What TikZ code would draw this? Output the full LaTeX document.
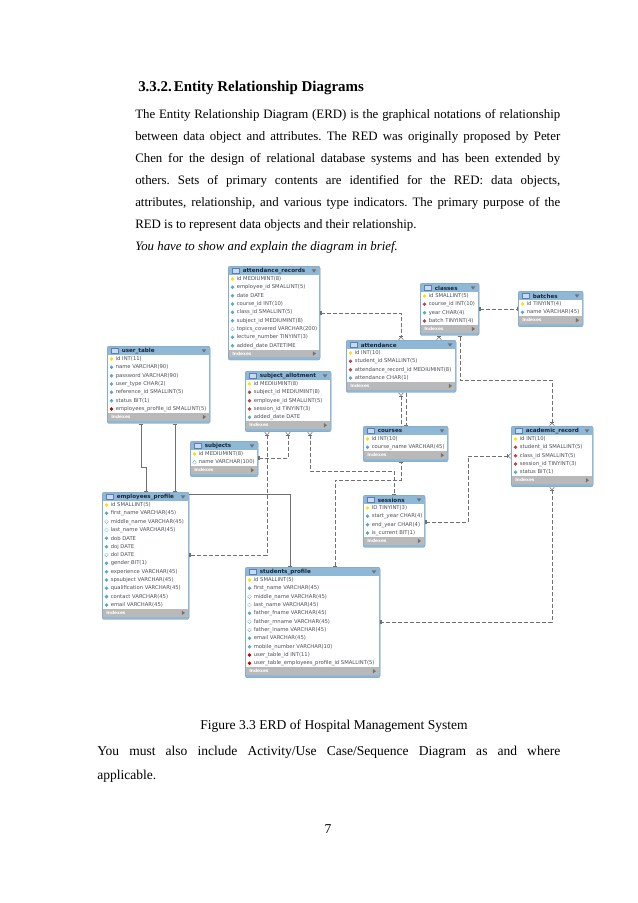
\documentclass[tikz,border=0pt]{standalone}
\usepackage{fontspec}
\setmainfont{Liberation Serif}
\setsansfont{DejaVu Sans}
\usetikzlibrary{arrows.meta,shapes.geometric}
\frenchspacing

\definecolor{tblblue}{HTML}{8FB7D6}
\definecolor{bandgray}{HTML}{B9B9B9}
\definecolor{rowink}{HTML}{4A4F55}
\definecolor{titleink}{HTML}{16283C}
\definecolor{linkgray}{HTML}{707070}
\definecolor{iconline}{HTML}{5B7FB5}
\definecolor{iconfill}{HTML}{C9D9F0}

\tikzset{
  tblbox/.style={rounded corners=1.5pt, fill=tblblue, draw=tblblue!85!black, line width=.2pt, anchor=north west, inner sep=0pt},
  tbltitle/.style={anchor=west, inner sep=0pt, text=titleink, font=\sffamily\bfseries\fontsize{4.2}{5}\selectfont},
  tblrow/.style={anchor=west, inner sep=0pt, text=rowink, font=\sffamily\fontsize{3.95}{4.5}\selectfont},
  tblband/.style={anchor=west, inner sep=0pt, text=white, font=\sffamily\bfseries\fontsize{3.3}{4}\selectfont},
  tblicon/.style={rectangle, draw=iconline, fill=iconfill, line width=.3pt, inner sep=0pt, minimum width=5.5pt, minimum height=3.5pt},
  fold/.style={isosceles triangle, isosceles triangle apex angle=70, fill=black!55, inner sep=0pt, minimum size=2.4pt},
  pk/.style={diamond, fill=yellow!85!orange, inner sep=0pt, minimum size=3pt},
  rk/.style={diamond, fill=red!75!black, inner sep=0pt, minimum size=3pt},
  fk/.style={diamond, fill=red!45!gray, inner sep=0pt, minimum size=3pt},
  ck/.style={diamond, fill=cyan!55!gray, inner sep=0pt, minimum size=3pt},
  ok/.style={diamond, fill=white, draw=cyan!50!gray, line width=.2pt, inner sep=0pt, minimum size=3pt},
  onetip/.tip={Bar[width=3.5pt,length=.4pt,line width=.4pt].Bar[width=3.5pt,length=.4pt,line width=.4pt]},
  manytip/.tip={Bar[width=3.5pt,length=.4pt,line width=.4pt]Straight Barb[reversed,length=2pt,width=3.5pt,line width=.4pt]},
  solidlink/.style={draw=linkgray, line width=.6pt},
  dashlink/.style={draw=linkgray, line width=.6pt, dash pattern=on 3pt off 1.5pt},
  bodytext/.style={anchor=north west, inner sep=0pt, align=justify, font=\fontsize{9.65}{16.5}\selectfont},
  closetext/.style={anchor=north west, inner sep=0pt, align=justify, font=\fontsize{10.15}{18}\selectfont},
  plainline/.style={inner sep=0pt, font=\fontsize{10.15}{16.5}\selectfont}
}

% name, x, y, width, rows, title, rows list
\newcommand{\erdtable}[7]{
  \node[tblbox, minimum width={#4*0.75pt}, minimum height={(19+8.33*#5)*0.75pt}] (#1) at (#2,#3) {};
  \fill[white] (#2+.7,#3+8.8) rectangle (#2+#4-.7,#3+8.8+8.33*#5);
  \fill[bandgray] (#2+.7,#3+8.8+8.33*#5) rectangle (#2+#4-.7,#3+16.4+8.33*#5);
  \node[tblicon] (#1-icon) at (#2+8,#3+5) {};
  \node[tbltitle] (#1-title) at (#2+14.5,#3+5) {#6};
  \node[fold, rotate=-90] (#1-fold) at (#2+#4-6,#3+4.6) {};
  \foreach \kind/\row [count=\i] in {#7} {
    \node[\kind] (#1-key-\i) at (#2+4.5,{#3+13+8.33*(\i-1)}) {};
    \node[tblrow] (#1-row-\i) at (#2+8.5,{#3+13+8.33*(\i-1)}) {\row};
  }
  \node[tblband] (#1-band) at (#2+4,#3+12.6+8.33*#5) {Indexes};
  \node[fold] (#1-more) at (#2+#4-6,#3+12.6+8.33*#5) {};
}

\begin{document}
\begin{tikzpicture}[x=0.75pt,y=-0.75pt]
  \useasboundingbox[fill=white] (0,0) rectangle (638,903);

  % page text
  \node[inner sep=0pt, anchor=west, font=\bfseries\fontsize{11.2}{13}\selectfont] (heading) at (138,88) {3.3.2.\hspace{1.5pt}Entity Relationship Diagrams};
  \node[bodytext, text width=425*0.75pt] (para) at (135,109.5) {The Entity Relationship Diagram (ERD) is the graphical notations of relationship\linebreak
    between data object and attributes. The RED was originally proposed by Peter\linebreak
    Chen for the design of relational database systems and has been extended by\linebreak
    others. Sets of primary contents are identified for the RED: data objects,\linebreak
    attributes, relationship, and various type indicators. The primary purpose of the\linebreak
    RED is to represent data objects and their relationship.\\
    \textit{You have to show and explain the diagram in brief.}};

  % tables
  \erdtable{attrecords}{228}{266}{92}{9}{attendance\_records}{pk/id MEDIUMINT(8), ck/employee\_id SMALLINT(5), ck/date DATE, ck/course\_id INT(10), ck/class\_id SMALLINT(5), ck/subject\_id MEDIUMINT(8), ok/topics\_covered VARCHAR(200), ck/lecture\_number TINYINT(3), ck/added\_date DATETIME}
  \erdtable{usertable}{107}{346}{103}{7}{user\_table}{pk/id INT(11), ck/name VARCHAR(90), ck/password VARCHAR(90), ck/user\_type CHAR(2), ck/reference\_id SMALLINT(5), ck/status BIT(1), rk/employees\_profile\_id SMALLINT(5)}
  \erdtable{subjallot}{245}{371}{86}{5}{subject\_allotment}{pk/id MEDIUMINT(8), fk/subject\_id MEDIUMINT(8), fk/employee\_id SMALLINT(5), fk/session\_id TINYINT(3), ck/added\_date DATE}
  \erdtable{subjects}{190}{441}{68}{2}{subjects}{pk/id MEDIUMINT(8), ok/name VARCHAR(100)}
  \erdtable{employees}{102}{492}{87}{13}{employees\_profile}{pk/id SMALLINT(5), ck/first\_name VARCHAR(45), ok/middle\_name VARCHAR(45), ok/last\_name VARCHAR(45), ck/dob DATE, ck/doj DATE, ok/dol DATE, ck/gender BIT(1), ck/experience VARCHAR(45), ck/spsubject VARCHAR(45), ck/qualification VARCHAR(45), ck/contact VARCHAR(45), ck/email VARCHAR(45)}
  \erdtable{students}{245}{567}{135}{11}{students\_profile}{pk/id SMALLINT(5), ck/first\_name VARCHAR(45), ok/middle\_name VARCHAR(45), ok/last\_name VARCHAR(45), ck/father\_fname VARCHAR(45), ok/father\_mname VARCHAR(45), ok/father\_lname VARCHAR(45), ck/email VARCHAR(45), ck/mobile\_number VARCHAR(10), rk/user\_table\_id INT(11), rk/user\_table\_employees\_profile\_id SMALLINT(5)}
  \erdtable{classes}{420}{283}{59}{4}{classes}{pk/id SMALLINT(5), fk/course\_id INT(10), ck/year CHAR(4), fk/batch TINYINT(4)}
  \erdtable{batches}{518}{291}{65}{2}{batches}{pk/id TINYINT(4), ck/name VARCHAR(45)}
  \erdtable{attendance}{346}{340}{110}{4}{attendance}{pk/id INT(10), fk/student\_id SMALLINT(5), fk/attendance\_record\_id MEDIUMINT(8), ck/attendance CHAR(1)}
  \erdtable{courses}{363}{426}{85}{2}{courses}{pk/id INT(10), ck/course\_name VARCHAR(45)}
  \erdtable{sessions}{363}{495}{62}{4}{sessions}{pk/ID TINYINT(3), ck/start\_year CHAR(4), ck/end\_year CHAR(4), ck/is\_current BIT(1)}
  \erdtable{academic}{511}{426}{82}{5}{academic\_record}{pk/id INT(10), fk/student\_id SMALLINT(5), fk/class\_id SMALLINT(5), fk/session\_id TINYINT(3), ck/status BIT(1)}

  % solid links
  \draw[solidlink, onetip-onetip] (141,0 |- usertable.south) -- (141,467) -- (146,467) -- (146,0 |- employees.north);
  \draw[solidlink, onetip-onetip] (175,0 |- usertable.south) -- (175,0 |- employees.north);
  \draw[solidlink, -onetip] (employees.east |- 0,494) -- (290,494) -- (290,0 |- students.north);

  % dashed links
  \draw[dashlink, onetip-manytip] (attrecords.east |- 0,313) -- (401,313) -- (401,0 |- attendance.north);
  \draw[dashlink, manytip-onetip] (267,0 |- subjallot.south) -- (267,555) -- (employees.east |- 0,555);
  \draw[dashlink, manytip-onetip] (288,0 |- subjallot.south) -- (288,458) -- (subjects.east |- 0,458);
  \draw[dashlink, manytip-onetip] (310,0 |- subjallot.south) -- (310,471) -- (394,471) -- (394,0 |- sessions.north);
  \draw[dashlink, onetip-onetip] (335,0 |- students.north) -- (335,480) -- (401,480) -- (401,0 |- courses.south);
  \draw[dashlink, manytip-] (401,0 |- attendance.south) -- (401,0 |- courses.north);
  \draw[dashlink, -onetip] (406,0 |- attendance.south) -- (406,0 |- courses.north);
  \draw[dashlink, manytip-onetip] (439,0 |- attendance.north) -- (439,0 |- classes.south);
  \draw[dashlink, onetip-onetip] (classes.east |- 0,309) -- (batches.west |- 0,309);
  \draw[dashlink, onetip-manytip] (460,0 |- classes.south) -- (460,380) -- (552,380) -- (552,0 |- academic.north);
  \draw[dashlink, onetip-manytip] (sessions.east |- 0,522) -- (468,522) -- (468,456) -- (academic.west |- 0,456);
  \draw[dashlink, manytip-onetip] (552,0 |- academic.south) -- (552,622) -- (students.east |- 0,622);

  % caption and closing text
  \node[plainline] (caption) at (334,726) {Figure 3.3 ERD of Hospital Management System};
  \node[closetext, text width=463*0.75pt] (closing) at (97,746) {You must also include Activity/Use Case/Sequence Diagram as and where\linebreak applicable.};
  \node[plainline] (pageno) at (328,829) {7};
\end{tikzpicture}
\end{document}
